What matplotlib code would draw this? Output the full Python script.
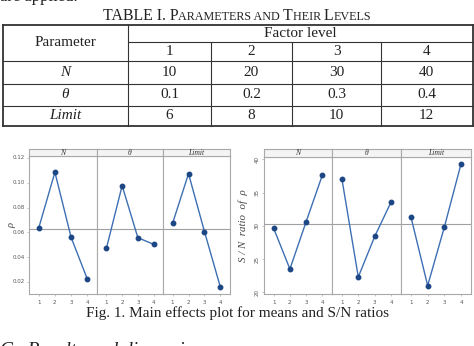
import matplotlib
matplotlib.use('Agg')
import matplotlib.pyplot as plt
from matplotlib.lines import Line2D

W, H = 474, 346

# ---------------- data ----------------
table_params = ['N', 'θ', 'Limit']
table_levels = ['1', '2', '3', '4']
table_rows = [['10', '20', '30', '40'],
              ['0.1', '0.2', '0.3', '0.4'],
              ['6', '8', '10', '12']]

factors = ['N', 'θ', 'Limit']
levels = [1, 2, 3, 4]
means_N = [0.0635, 0.1085, 0.056, 0.0224]
means_theta = [0.0472, 0.0977, 0.0557, 0.0504]
means_limit = [0.0673, 0.1073, 0.0606, 0.0157]
sn_N = [29.6, 23.5, 30.6, 37.6]
sn_theta = [37.1, 22.3, 28.4, 33.6]
sn_limit = [31.3, 21.0, 29.8, 39.3]
mean_ticks = [0.02, 0.04, 0.06, 0.08, 0.10, 0.12]
sn_ticks = [20, 25, 30, 35, 40]

SERIF = 'Liberation Serif'
LINE_C = '#3d6fb4'
MARK_C = '#1c4784'
FRAME_C = '#a9a9a9'
REF_C = '#a0a0a0'
TXT_C = '#222222'

fig = plt.figure(figsize=(W / 100, H / 100), dpi=100)
fig.patch.set_facecolor('white')


def fx(x):
    return x / W


def fy(y):
    return 1 - y / H


def hline(x0, x1, y, lw=0.8, c='#333333'):
    fig.add_artist(Line2D([fx(x0), fx(x1)], [fy(y), fy(y)], lw=lw, color=c,
                          transform=fig.transFigure))


def vline(x, y0, y1, lw=0.8, c='#333333'):
    fig.add_artist(Line2D([fx(x), fx(x)], [fy(y0), fy(y1)], lw=lw, color=c,
                          transform=fig.transFigure))


def ftext(x, y, s, size=10.5, **kw):
    kw.setdefault('ha', 'center')
    kw.setdefault('va', 'center')
    return fig.text(fx(x), fy(y), s, fontsize=size, family=SERIF, color=TXT_C, **kw)


# ---------------- surrounding page text ----------------
ftext(0, -3, 'are applied.', size=12, ha='left')
ftext(0, 350, 'C.  Results and discussions', size=14, ha='left', style='italic')

# small-caps title
renderer = fig.canvas.get_renderer()
BIG, SMALL = 11.4, 8.7
pieces = [('TABLE I. P', BIG), ('ARAMETERS AND ', SMALL), ('T', BIG), ('HEIR ', SMALL),
          ('L', BIG), ('EVELS', SMALL)]
tmp = []
total = 0
for s, sz in pieces:
    t = fig.text(0, 0, s, fontsize=sz, family=SERIF)
    w = t.get_window_extent(renderer).width
    tmp.append((s, sz, w))
    t.remove()
    total += w
x = 237 - total / 2
for s, sz, w in tmp:
    fig.text(fx(x), fy(20), s, fontsize=sz, family=SERIF, color=TXT_C,
             ha='left', va='baseline')
    x += w

# ---------------- table ----------------
L, R = 2.5, 472.5
cols = [128, 211, 292, 381]
rows_y = [25, 42, 61, 84, 106, 126]
hline(L, R, rows_y[0], lw=1.3)
hline(cols[0], R, rows_y[1])
for yy in rows_y[2:5]:
    hline(L, R, yy)
hline(L, R, rows_y[5], lw=1.3)
vline(L, rows_y[0], rows_y[5], lw=1.3)
vline(R, rows_y[0], rows_y[5], lw=1.3)
vline(cols[0], rows_y[0], rows_y[5])
for cx in cols[1:]:
    vline(cx, rows_y[1], rows_y[5])

col_edges = cols + [R]
col_centers = [(col_edges[i] + col_edges[i + 1]) / 2 for i in range(4)]
ftext((L + cols[0]) / 2, (rows_y[0] + rows_y[2]) / 2, 'Parameter', size=11)
ftext((cols[0] + R) / 2, (rows_y[0] + rows_y[1]) / 2, 'Factor level', size=11)
for cxx, lv in zip(col_centers, table_levels):
    ftext(cxx, (rows_y[1] + rows_y[2]) / 2, lv, size=11)
for i, (p, vals) in enumerate(zip(table_params, table_rows)):
    yc = (rows_y[2 + i] + rows_y[3 + i]) / 2
    ftext((L + cols[0]) / 2, yc, p, style='italic', size=11)
    for cxx, v in zip(col_centers, vals):
        ftext(cxx, yc, v, size=11)

# ---------------- main effects plots ----------------


def panel_axes(xedges, top, strip_top, bottom):
    axs = []
    for i in range(3):
        l, r = xedges[i], xedges[i + 1]
        ax = fig.add_axes([fx(l), fy(bottom), (r - l) / W, (bottom - top) / H])
        st = fig.add_axes([fx(l), fy(top), (r - l) / W, (top - strip_top) / H])
        axs.append((ax, st))
    return axs


def draw_group(xedges, top, strip_top, bottom, series, ylim, yticks, ylabels,
               ylabel, ylab_x, ylab_size, rot_ticks):
    allv = [v for s in series for v in s]
    grand = sum(allv) / len(allv)
    axs = panel_axes(xedges, top, strip_top, bottom)
    for i, ((ax, st), vals, name) in enumerate(zip(axs, series, factors)):
        ax.axhline(grand, color=REF_C, lw=0.8, zorder=1)
        ax.plot(levels, vals, color=LINE_C, lw=1.0, zorder=2)
        ax.plot(levels, vals, 'o', color=MARK_C, ms=3.2, zorder=3)
        ax.set_xlim(0.4, 4.6)
        ax.set_ylim(*ylim)
        ax.set_xticks(levels)
        ax.set_xticklabels([str(l) for l in levels], fontsize=4, color='#555555',
                           family='DejaVu Sans')
        ax.tick_params(axis='x', length=1.5, width=0.5, color=FRAME_C, pad=2.5)
        ax.set_yticks(yticks)
        if i == 0:
            ax.set_yticklabels(ylabels, fontsize=4, color='#555555',
                               family='DejaVu Sans',
                               rotation=90 if rot_ticks else 0,
                               va='center')
            ax.tick_params(axis='y', length=1.5, width=0.5, color=FRAME_C, pad=1.5)
        else:
            ax.tick_params(axis='y', length=0, labelleft=False)
        for sp in ax.spines.values():
            sp.set_color(FRAME_C)
            sp.set_linewidth(0.8)
        st.set_facecolor('#f4f4f4')
        st.set_xticks([])
        st.set_yticks([])
        for sp in st.spines.values():
            sp.set_color(FRAME_C)
            sp.set_linewidth(0.8)
        st.text(0.5, 0.45, name, transform=st.transAxes, ha='center', va='center',
                fontsize=5.5, style='italic', family=SERIF, color='#333333')
    yc = (top + bottom) / 2
    fig.text(fx(ylab_x), fy(yc), ylabel, rotation=90, ha='center', va='center',
             fontsize=ylab_size, style='italic', family=SERIF, color='#444444')


draw_group([29, 97, 163, 230], 156, 149, 294,
           [means_N, means_theta, means_limit], (0.0103, 0.1216),
           mean_ticks, ['%.2f' % t for t in mean_ticks], 'ρ', 12, 7.5, False)
draw_group([264, 332, 401, 471], 157, 149, 294,
           [sn_N, sn_theta, sn_limit], (19.74, 40.35),
           sn_ticks, [str(t) for t in sn_ticks], 'S / N  ratio  of  ρ', 243, 7.8, True)

ftext(237.5, 313, 'Fig. 1. Main effects plot for means and S/N ratios', size=11)

fig.savefig('out.png', dpi=100, facecolor='white')
